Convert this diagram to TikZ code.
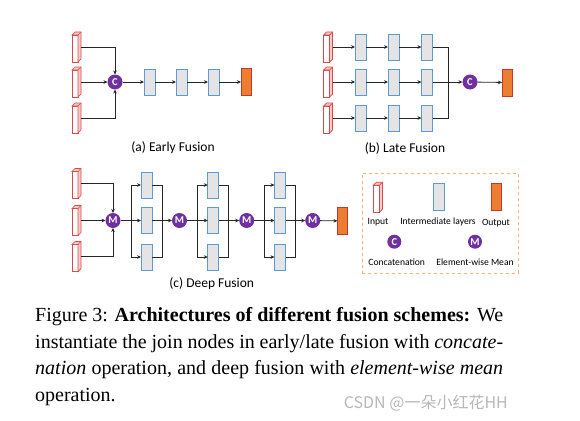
\documentclass[tikz,border=0pt]{standalone}
\usepackage{fontspec}
\setmainfont{Liberation Serif}
\newfontfamily\calfont{Carlito}
\newfontfamily\cjkfont{Noto Sans CJK SC}
\usetikzlibrary{calc,arrows.meta}
\definecolor{inred}{HTML}{E04848}
\definecolor{inpink}{HTML}{F6C9C9}
\definecolor{midblue}{HTML}{5B9BD5}
\definecolor{midgray}{HTML}{E4E4E4}
\definecolor{outorange}{HTML}{ED7D31}
\definecolor{outborder}{HTML}{C0392B}
\definecolor{oppurple}{HTML}{7030A0}
\definecolor{legdash}{HTML}{F4B183}
\tikzset{
  inp/.style={draw=inred, fill=white, line width=0.7pt, minimum width=6pt, minimum height=27pt, inner sep=0pt, outer sep=0pt},
  mid/.style={draw=midblue, fill=midgray, line width=0.8pt, minimum width=11pt, minimum height=26pt, inner sep=0pt, outer sep=0pt},
  outp/.style={draw=outborder, fill=outorange, line width=0.8pt, minimum width=10pt, minimum height=27pt, inner sep=0pt, outer sep=0pt},
  op/.style={circle, fill=oppurple, minimum size=15pt, inner sep=0pt, outer sep=0pt, text=white, font=\calfont\bfseries\fontsize{10.5}{10.5}\selectfont},
  lop/.style={op, minimum size=14pt},
  conn/.style={line width=0.8pt, draw=black!85},
  arr/.style={conn, -{Stealth[length=4pt,width=3.6pt]}},
  sublabel/.style={font=\calfont\fontsize{13.5}{14}\selectfont, inner sep=0pt},
  leglabel/.style={font=\calfont\fontsize{9.6}{10}\selectfont, inner sep=0pt},
}
\newcommand\inbox[3]{%
  \node[inp] (#1) at (#2,#3) {};
  \draw[inred, fill=inpink, line width=0.7pt] (#1.north west) -- ++(3,-3) -- ++(6,0) -- ($(#1.south east)+(3,-3)$) -- (#1.south east) -- (#1.north east) -- cycle;
  \draw[inred, line width=0.7pt] (#1.north east) -- ++(3,-3);
  \coordinate (#1o) at ($(#1.east)+(3,-1.5)$);
}
\begin{document}
\begin{tikzpicture}[x=1pt,y=-1pt]
\useasboundingbox[fill=white] (0,0) rectangle (580,420);

% ---------- (a) Early fusion ----------
\inbox{ai1}{75}{48.5}
\inbox{ai2}{75}{83.5}
\inbox{ai3}{75}{119.5}
\node[op] (ca) at (115,82) {C};
\node[mid] (am1) at (149.5,82) {};
\node[mid] (am2) at (181.5,82) {};
\node[mid] (am3) at (213.5,82) {};
\node[outp] (aout) at (246,82) {};
\draw[arr] (ai1o) -| (ca.north);
\draw[arr] (ai2o) -- (ca.west);
\draw[arr] (ai3o) -| (ca.south);
\draw[arr] (ca) -- (am1);
\draw[arr] (am1) -- (am2);
\draw[arr] (am2) -- (am3);
\draw[arr] (am3) -- (aout);
\node[sublabel] (la) at (173,148) {(a) Early Fusion};

% ---------- (b) Late fusion ----------
\inbox{bi1}{326.5}{48.5}
\inbox{bi2}{326.5}{83.5}
\inbox{bi3}{326.5}{119.5}
\foreach \r/\y in {1/47,2/82,3/118}{
  \node[mid] (b\r1) at (360.5,\y) {};
  \node[mid] (b\r2) at (393.5,\y) {};
  \node[mid] (b\r3) at (427,\y) {};
  \draw[arr] (bi\r o) -- (b\r1);
  \draw[arr] (b\r1) -- (b\r2);
  \draw[arr] (b\r2) -- (b\r3);
}
\node[op] (cb) at (470,82) {C};
\node[outp] (bout) at (507,82.5) {};
\coordinate (jb) at (448,82);
\draw[conn] (b13.east) -| (jb);
\draw[conn] (b33.east) -| (jb);
\draw[arr] (b23.east) -- (cb.west);
\draw[arr] (cb) -- (bout);
\node[sublabel] (lb) at (405,148) {(b) Late Fusion};

% ---------- (c) Deep fusion ----------
\inbox{ci1}{75}{185}
\inbox{ci2}{75}{222}
\inbox{ci3}{75}{258}
\node[op] (cm1) at (113,220.5) {M};
\node[op] (cm2) at (179.5,220.5) {M};
\node[op] (cm3) at (246.7,220.5) {M};
\node[op] (cm4) at (312.7,220.5) {M};
\node[outp] (cout) at (342.5,221) {};
\draw[arr] (ci1o) -| (cm1.north);
\draw[arr] (ci2o) -- (cm1.west);
\draw[arr] (ci3o) -| (cm1.south);
\foreach \k/\cx/\lx/\rx/\nxt in {1/146.5/131/162/cm2, 2/213.3/197/228.5/cm3, 3/280/264/295/cm4}{
  \node[mid] (c\k a) at (\cx,185) {};
  \node[mid] (c\k b) at (\cx,220.5) {};
  \node[mid] (c\k c) at (\cx,257) {};
  \coordinate (L\k) at (\lx,220.5);
  \coordinate (R\k) at (\rx,220.5);
  \draw[arr] (L\k) |- (c\k a.west);
  \draw[arr] (L\k) |- (c\k c.west);
  \draw[arr] (L\k) -- (c\k b.west);
  \draw[conn] (c\k a.east) -| (R\k);
  \draw[conn] (c\k c.east) -| (R\k);
  \draw[arr] (c\k b.east) -- (\nxt.west);
}
\draw[conn] (cm1) -- (L1);
\draw[conn] (cm2) -- (L2);
\draw[conn] (cm3) -- (L3);
\draw[arr] (cm4) -- (cout);
\node[sublabel] (lc) at (211.7,284) {(c) Deep Fusion};

% ---------- legend ----------
\node[draw=legdash, dashed, line width=0.8pt, minimum width=156pt, minimum height=100pt, inner sep=0pt] (legend) at (439.9,223.3) {};
\inbox{li}{376.5}{198.7}
\node[mid, minimum height=27pt] (lm) at (438.5,197) {};
\node[outp] (lo) at (496,196.5) {};
\node[leglabel] (lti) at (378,221.7) {Input};
\node[leglabel] (ltm) at (438,221.7) {Intermediate layers};
\node[leglabel] (lto) at (496,223) {Output};
\node[lop] (lc1) at (394.3,241.7) {C};
\node[lop] (lm1) at (475,241.7) {M};
\node[leglabel] (ltc) at (396.7,262.3) {Concatenation};
\node[leglabel] (ltem) at (475,262.3) {Element-wise Mean};

% ---------- caption ----------
\node[anchor=north west, inner sep=0pt, align=left, font=\fontsize{20}{26.5}\selectfont] (cap) at (35,307.5) {%
\makebox[468pt][s]{Figure 3: \textbf{Architectures of different fusion schemes:} We}\\
\makebox[468pt][s]{instantiate the join nodes in early/late fusion with \textit{concate-}}\\
\makebox[468pt][s]{\textit{nation} operation, and deep fusion with \textit{element-wise mean}}\\
operation.};

\node[anchor=base east, inner sep=0pt, text=black!28, font=\cjkfont\fontsize{16}{16}\selectfont] (wm) at (508,408) {CSDN @一朵小红花HH};
\end{tikzpicture}
\end{document}
